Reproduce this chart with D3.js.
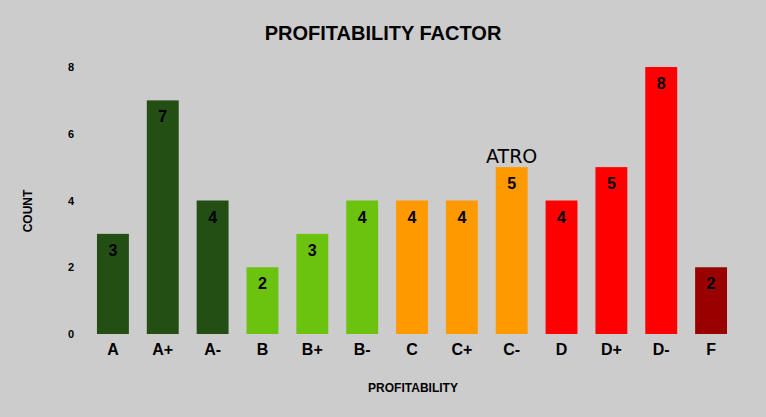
<!DOCTYPE html>
<html><head><meta charset="utf-8">
<script src="https://cdn.jsdelivr.net/npm/d3@7"></script>
<style>body{margin:0;background:#cccccc}</style>
</head><body><svg id="c" width="766" height="417"></svg>
<script>
const categories=["A","A+","A-","B","B+","B-","C","C+","C-","D","D+","D-","F"];
const counts=[3,7,4,2,3,4,4,4,5,4,5,8,2];
const colors=["#234f14","#234f14","#234f14","#6cc30f","#6cc30f","#6cc30f","#ff9900","#ff9900","#ff9900","#ff0000","#ff0000","#ff0000","#990000"];
const yTicks=[0,2,4,6,8];
const annotation={category:"C-",text:"ATRO"};
const svg=d3.select("#c");
svg.append("rect").attr("width",766).attr("height",417).attr("fill","#cccccc");
const x=d3.scaleBand().domain(categories).range([88,736]).paddingInner(0.36).paddingOuter(0.18);
const y=d3.scaleLinear().domain([0,8]).range([334,67]);
const f="Liberation Sans, Arial, sans-serif";
svg.append("text").attr("x",383).attr("y",40).attr("text-anchor","middle").attr("font-family",f).attr("font-weight","bold").attr("font-size",20).text("PROFITABILITY FACTOR");
const yg=svg.append("g").attr("transform","translate(74,0)").call(d3.axisLeft(y).tickValues(yTicks).tickSize(0).tickPadding(0));
yg.select(".domain").remove();
yg.selectAll("text").attr("font-family",f).attr("font-weight","bold").attr("font-size",11).attr("fill","#000");
const xg=svg.append("g").attr("transform","translate(0,334)").call(d3.axisBottom(x).tickSize(0).tickPadding(10));
xg.select(".domain").remove();
xg.selectAll("text").attr("font-family",f).attr("font-weight","bold").attr("font-size",16).attr("fill","#000");
svg.append("text").attr("x",413).attr("y",392).attr("text-anchor","middle").attr("font-family",f).attr("font-weight","bold").attr("font-size",12).text("PROFITABILITY");
svg.append("text").attr("transform","translate(32,211) rotate(-90)").attr("text-anchor","middle").attr("font-family",f).attr("font-weight","bold").attr("font-size",12).text("COUNT");
const data=categories.map((c,i)=>({c,v:counts[i],col:colors[i]}));
svg.selectAll("rect.bar").data(data).join("rect").attr("class","bar").attr("x",d=>x(d.c)).attr("width",x.bandwidth()).attr("y",d=>y(d.v)).attr("height",d=>y(0)-y(d.v)).attr("fill",d=>d.col);
svg.selectAll("text.lbl").data(data).join("text").attr("class","lbl").attr("x",d=>x(d.c)+x.bandwidth()/2).attr("y",d=>y(d.v)+22).attr("text-anchor","middle").attr("font-family",f).attr("font-weight","bold").attr("font-size",16).text(d=>d.v);
const ai=categories.indexOf(annotation.category);
svg.append("text").attr("x",x(annotation.category)+x.bandwidth()/2).attr("y",y(counts[ai])-4).attr("text-anchor","middle").attr("font-family","DejaVu Sans, sans-serif").attr("font-size",19).text(annotation.text);
</script></body></html>
